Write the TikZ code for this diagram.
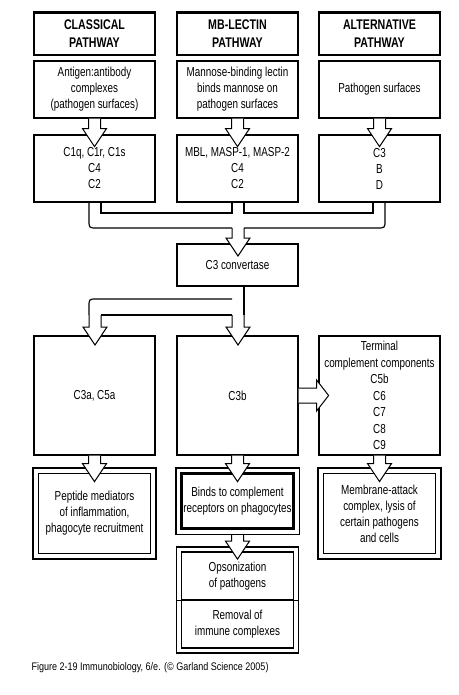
\documentclass[tikz,border=0pt]{standalone}
\usepackage{fontspec}
\setmainfont{Liberation Sans}[FakeStretch=0.76]
\newfontfamily\capfont{Liberation Sans}[FakeStretch=0.82]
\usetikzlibrary{fit}

\tikzset{pics/darrow/.style={code={
	\draw[fill=white,line width=1pt] (-6,0) -- (-6,#1) -- (-12,#1) -- (0,#1+18) -- (12,#1) -- (6,#1) -- (6,0);
}}}

\begin{document}
\begin{tikzpicture}[x=1pt,y=-1pt,line width=1.2pt]
	\tikzstyle{box}=[draw,minimum width=121pt,align=center,inner sep=0pt,font=\fontsize{13}{16}\selectfont]
	\tikzstyle{head}=[box,minimum height=42pt,font=\fontsize{14}{18}\selectfont\bfseries]
	\tikzstyle{inbox}=[box,minimum width=112pt,line width=1.6pt]
	\tikzstyle{outbox}=[draw,line width=1.6pt,inner sep=4.5pt]
	\tikzstyle{block}=[draw,fill=white,line width=1pt]
	
	\useasboundingbox (0,0) rectangle (458,695);
	
	% pathways
	\node[head](clshead) at (94.5,34){CLASSICAL\\PATHWAY};
	\node[head](mbhead) at (237.5,34){MB-LECTIN\\PATHWAY};
	\node[head](althead) at (379.5,34){ALTERNATIVE\\PATHWAY};
	\foreach \n in {clshead,mbhead,althead}
		\draw[line width=2.4pt] (\n.north west) -- (\n.north east);
	
	\node[box,minimum height=57pt](clsact) at (94.5,89.5){Antigen:antibody\\complexes\\(pathogen surfaces)};
	\node[box,minimum height=57pt](mbact) at (237.5,89.5){Mannose-binding lectin\\binds mannose on\\pathogen surfaces};
	\node[box,minimum height=57pt](altact) at (379.5,89.5){Pathogen surfaces};
	
	\node[box,minimum height=67pt](clscomp) at (94.5,168.5){C1q, C1r, C1s\\C4\\C2};
	\node[box,minimum height=67pt](mbcomp) at (237.5,168.5){MBL, MASP-1, MASP-2\\C4\\C2};
	\node[box,minimum height=67pt](altcomp) at (379.5,168.5){C3\\B\\D};
	
	\pic at (clsact.south){darrow=10};
	\pic at (mbact.south){darrow=10};
	\pic at (altact.south){darrow=10};
	
	% convertase
	\node[box,minimum height=42pt](conv) at (237.5,265){C3 convertase};
	
	\draw (89,202) -- (89,220) .. controls (89,228) .. (97,228) -- (232,228);
	\draw (244,228) -- (377,228) .. controls (385,228) .. (385,220) -- (385,202);
	\draw (101,202) -- (101,213) -- (232,213) -- (232,202);
	\draw (244,202) -- (244,213) -- (373,213) -- (373,202);
	\pic at (238,228){darrow=10};
	
	% products
	\node[box,minimum height=119pt](c3a) at (94.5,395.5){C3a, C5a};
	\node[box,minimum height=119pt](c3b) at (237.5,395.5){C3b};
	\node[box,minimum height=119pt,font=\fontsize{13}{16.5}\selectfont](term) at (379.5,395.5){Terminal\\complement components\\C5b\\C6\\C7\\C8\\C9};
	
	\draw (232,299) -- (97,299) .. controls (89,299) .. (89,307) -- (89,315);
	\draw (101,315) -- (232,315);
	\draw (conv.south -| 244,0) -- (244,315);
	\pic at (95,315){darrow=12};
	\pic at (238,315){darrow=12};
	
	\draw[block] (c3b.east) ++(0,-7.5) -- ++(18,0) -- ++(0,-8) -- ++(12,15.5) -- ++(-12,15.5) -- ++(0,-8) -- ++(-18,0);
	
	% effects
	\node[inbox,minimum height=80pt](pept) at (94.5,513.5){Peptide mediators\\of inflammation,\\phagocyte recruitment};
	\node[outbox,fit=(pept)](peptframe){};
	\node[inbox,minimum height=55pt,line width=2.6pt](binds) at (237.5,501){Binds to complement\\receptors on phagocytes};
	\node[outbox,fit=(binds)](bindsframe){};
	\node[inbox,minimum height=80pt](mac) at (379.5,513.5){Membrane-attack\\complex, lysis of\\certain pathogens\\and cells};
	\node[outbox,fit=(mac)](macframe){};
	
	\pic at (c3a.south){darrow=8};
	\pic at (c3b.south){darrow=8};
	\pic at (term.south){darrow=8};
	
	\node[inbox,minimum height=48pt,line width=1.2pt](opson) at (237.5,576){Opsonization\\of pathogens};
	\node[inbox,minimum height=48pt,line width=1.2pt](removal) at (237.5,624){Removal of\\immune complexes};
	\node[outbox,fit=(opson)(removal)](opsonframe){};
	\draw (opsonframe.west |- opson.south) -- (opsonframe.east |- opson.south);
	
	\pic at (bindsframe.south){darrow=6};
	
	\node[anchor=west,inner sep=0pt,font=\capfont\fontsize{11}{13}\selectfont](caption) at (31,668){Figure 2-19 Immunobiology, 6/e. (© Garland Science 2005)};
	
\end{tikzpicture}
\end{document}
